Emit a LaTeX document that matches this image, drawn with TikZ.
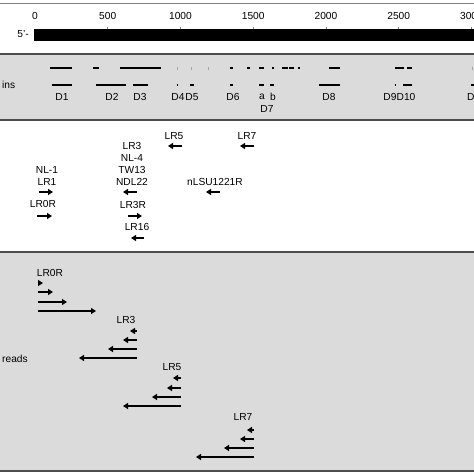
\documentclass[tikz,border=0pt]{standalone}
\usepackage{fontspec}
\setmainfont{Liberation Sans}
\usetikzlibrary{arrows.meta}
\definecolor{panelgray}{gray}{0.86}
\definecolor{rulegray}{gray}{0.3}
\tikzset{
  lbl/.style={font=\fontsize{10.2}{12}\selectfont,inner sep=0pt},
  seg/.style={line width=2.8pt},
  faint/.style={line width=0.9pt,gray!70},
  primer/.style={line width=2.6pt,-{Triangle[length=5pt,width=6pt]}},
  border/.style={line width=1.8pt,rulegray}
}
\begin{document}
\begin{tikzpicture}[x=1pt,y=-1pt]
  \useasboundingbox (0,0) rectangle (474,474);
  \fill[panelgray] (0,54) rectangle (474,120);
  \fill[panelgray] (0,252) rectangle (474,471);
  \draw[gray,line width=0.8pt] (0,3) -- (474,3);
  \foreach \y in {54,120,252,471}
    \draw[border] (0,\y) -- (474,\y);

  \foreach \n in {0,500,...,3000}
    \node[lbl] (s\n) at ({35+0.1455*\n},16) {\n};
  \node[lbl] (five) at (23,34) {5'-};
  \fill (33.5,29) rectangle (480,41);
  \foreach \n in {500,1000,...,3000}
    \draw[gray,line width=0.8pt] ({35+0.1455*\n},26.5) -- ++(0,2.5);

  \node[lbl,anchor=west] (ins) at (2,85) {ins};
  \foreach \a/\b in {50/72,93/99,120/161,230/233,247/250,259/264,282/288,289/294,298/300,272/274,329/340,395/404,407/412}
    \draw[seg] (\a,68) -- (\b,68);
  \foreach \a in {177,191,208,472}
    \draw[faint] (\a,66.5) -- (\a,69.5);
  \foreach \a/\b in {52/72,96/126,133/148,176.5/178,190/194,230/233,259/264,270/274,319/340,394.5/396,403/412,471/476}
    \draw[seg] (\a,85) -- (\b,85);
  \foreach \x/\t in {62/D1,112/D2,140/D3,178/D4,192/D5,233/D6,262/a,273/b,329/D8,390/D9,406/D10,476/D11}
    \node[lbl] (d\t) at (\x,97) {\t};
  \node[lbl] (dD7) at (267,109) {D7};

  \node[lbl] (lr5) at (174,136) {LR5};
  \draw[primer] (182,146) -- (168,146);
  \node[lbl] (lr7) at (247,136) {LR7};
  \draw[primer] (254,146) -- (240,146);
  \node[lbl] (lr3) at (132,146) {LR3};
  \node[lbl] (nl4) at (132,158) {NL-4};
  \node[lbl] (tw13) at (132,170) {TW13};
  \node[lbl] (ndl22) at (132,182) {NDL22};
  \draw[primer] (137,192) -- (123,192);
  \node[lbl] (lr3r) at (133,205) {LR3R};
  \draw[primer] (128,216) -- (142,216);
  \node[lbl] (lr16) at (137,227) {LR16};
  \draw[primer] (144,238) -- (131,238);
  \node[lbl] (nl1) at (47,170) {NL-1};
  \node[lbl] (lr1) at (47,182) {LR1};
  \draw[primer] (39,192) -- (53,192);
  \node[lbl] (lr0r) at (43,204) {LR0R};
  \draw[primer] (37,216) -- (52,216);
  \node[lbl] (nlsu) at (215,182) {nLSU1221R};
  \draw[primer] (220,192) -- (206,192);

  \node[lbl,anchor=west] (reads) at (2,359) {reads};
  \node[lbl] (rlr0r) at (50,273) {LR0R};
  \foreach \y/\e in {283/43,292/53,302/67,311/96}
    \draw[primer] (38,\y) -- (\e,\y);
  \node[lbl] (rlr3) at (126,320) {LR3};
  \foreach \y/\e in {331/130,340/123,349/108,358/79}
    \draw[primer] (137,\y) -- (\e,\y);
  \node[lbl] (rlr5) at (172,367) {LR5};
  \foreach \y/\e in {378/173,388/167,397/152,406/123}
    \draw[primer] (181,\y) -- (\e,\y);
  \node[lbl] (rlr7) at (243,417) {LR7};
  \foreach \y/\e in {430/247,439/240,448/224,457/196}
    \draw[primer] (254,\y) -- (\e,\y);
\end{tikzpicture}
\end{document}
